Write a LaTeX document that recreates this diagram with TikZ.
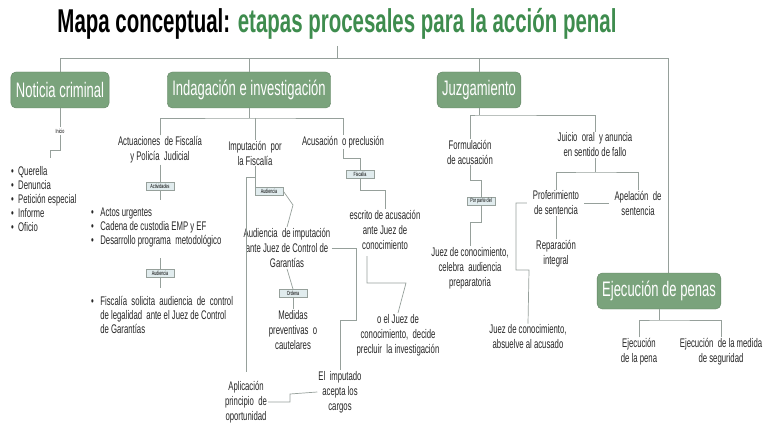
\documentclass[tikz,border=0pt]{standalone}
\usetikzlibrary{calc}
\usepackage{fontspec}
\setmainfont{Liberation Sans}
\newfontfamily\narrow[FakeStretch=0.62]{Liberation Sans}
\newfontfamily\titlef[FakeStretch=0.62]{Liberation Sans Bold}
\definecolor{gbox}{RGB}{122,163,124}
\definecolor{gtitle}{RGB}{62,140,78}
\definecolor{ln}{RGB}{150,160,155}
\definecolor{tg}{RGB}{225,236,238}
\tikzset{
 big/.style={draw=gbox!80!black, fill=gbox, rounded corners=5pt, text=white, font=\narrow\fontsize{21}{23}\selectfont, minimum height=36pt, inner xsep=5pt},
 txt/.style={font=\narrow\fontsize{12.5}{15}\selectfont, align=center, text=black!85, inner sep=1pt},
 tag/.style={draw=ln, fill=tg, font=\narrow\fontsize{6}{7}\selectfont, inner sep=1.5pt, minimum width=28pt},
 ll/.style={draw=ln, line width=0.7pt}
}
\begin{document}
\begin{tikzpicture}[x=1pt,y=-1pt]
\useasboundingbox (0,0) rectangle (768,433);
\node (title) at (337,24) {\titlef\fontsize{33}{36}\selectfont Mapa conceptual: \textcolor{gtitle}{etapas procesales para la acción penal}};
% top tree
\coordinate (t0) at (337,46);
\draw[ll] (t0) -- (337,58);
\draw[ll] (60,72) -- (60,58) -- (668,58) -- (668,273);
\node[big] (nc) at (60,90) {Noticia criminal};
\node[big] (ind) at (249,90) {Indagación e investigación};
\node[big] (juz) at (479,90) {Juzgamiento};
\node[big] (eje) at (659,291) {Ejecución de penas};
\draw[ll] (ind.north) -- (249,58);
\draw[ll] (juz.north) -- (479,58);
% Noticia
\node[tag,draw=none,fill=none] (ini) at (60,131) {Inicio};
\draw[ll] (nc.south) -- (ini.north);
\draw[ll] (ini.south) -- (60,150) -- (50,150) -- (50,158);
\node[txt, align=left, anchor=north west] (lst) at (10,165) {\textbullet\ \ Querella\\[-1pt]\textbullet\ \ Denuncia\\[-1pt]\textbullet\ \ Petición especial\\[-1pt]\textbullet\ \ Informe\\[-1pt]\textbullet\ \ Oficio};
% Indagacion
\node[txt] (act) at (160,150) {Actuaciones\ \ de Fiscalía\\y Policía\ \ Judicial};
\node[txt] (imp) at (255,153) {Imputación\ \ por\\la Fiscalía};
\node[txt] (acu) at (343,142) {Acusación\ \ o preclusión};
\draw[ll] (ind.south) -- (249,118);
\draw[ll] (act.north) |- (249,118) -| (acu.north);
\draw[ll] (255,118) -- (imp.north);
\node[tag] (acti) at (160,186) {Actividades};
\draw[ll] (act.south) -- (acti.north);
\node[txt, align=left, anchor=north west] (l2) at (90,207) {\textbullet\ \ \ Actos urgentes\\[-1pt]\textbullet\ \ \ Cadena de custodia EMP y EF\\[-1pt]\textbullet\ \ \ Desarrollo programa\ \ metodológico};
\draw[ll] (acti.south) -- (160,200);
\node[tag] (aud1) at (160,273) {Audiencia};
\draw[ll] (160,258) -- (aud1.north);
\draw[ll] (aud1.south) -- (160,288);
\node[txt, align=left, anchor=north west] (l3) at (90,295) {\textbullet\ \ \ Fiscalía\ \ solicita\ \ audiencia\ \ de\ \ control\\[-1pt]\phantom{\textbullet\ \ \ }de legalidad\ \ ante el Juez de Control\\[-1pt]\phantom{\textbullet\ \ \ }de Garantías};
% Imputacion
\node[tag] (aud2) at (269,191) {Audiencia};
\node[txt] (aimp) at (287,248) {Audiencia\ \ de imputación\\ante Juez de Control de\\Garantías};
\node[tag] (ord) at (293,293) {Ordena};
\node[txt] (med) at (293,330) {Medidas\\preventivas\ \ o\\cautelares};
\node[txt] (apl) at (246,402) {Aplicación\\principio\ \ de\\oportunidad};
\node[txt] (acep) at (340,392) {El\ \ imputado\\acepta los\\cargos};
\draw[ll] (imp.south) -- (255,177) -- (246,177) -- (246,372);
\draw[ll] (255,177) |- (aud2.west);
\draw[ll] (aud2.east) -- (293,205) -- (aimp.north);
\draw[ll] (aimp.south) -- (ord.north);
\draw[ll] (ord.south) -- (med.north);
\draw[ll] (aimp.east) -- (356,248) -- (356,320) -- (340,320) -- (acep.north);
\draw[ll] (apl.east) -- (290,402) -- (290,394) -- (acep.west);
% Acusacion
\node[tag] (fis) at (360,174) {Fiscalía};
\node[txt] (esc) at (385,230) {escrito de acusación\\ante Juez de\\conocimiento};
\node[txt] (pre) at (398,335) {o el Juez de\\conocimiento,\ \ decide\\precluir\ \ la investigación};
\draw[ll] (acu.south) -- (343,158) -| (fis.north);
\draw[ll] (fis.south) -- (360,190) -| (esc.north);
\draw[ll] (367,256) -- (367,283) -- (406,283) -- (pre.north);
% Juzgamiento
\node[txt] (for) at (470,152) {Formulación\\de acusación};
\node[txt] (jui) at (595,145) {Juicio\ \ oral\ \ y anuncia\\en sentido de fallo};
\draw[ll] (juz.south) -- (479,115);
\draw[ll] (for.north) |- (479,115) -| (jui.north);
\node[tag] (ppd) at (481,201) {Por parte del};
\draw[ll] (for.south) -- (470,180) -| (ppd.north);
\node[txt] (cel) at (470,268) {Juez de conocimiento,\\celebra\ \ audiencia\\preparatoria};
\draw[ll] (ppd.south) -- (481,222) -- (470,222) -- (cel.north);
\node[txt] (pro) at (556,203) {Proferimiento\\de sentencia};
\node[txt] (ape) at (638,203) {Apelación\ \ de\\sentencia};
\draw[ll] (jui.south) -- (595,172);
\draw[ll] (pro.north) |- (595,172) -| (ape.north);
\draw[ll] ($(pro.east)+(4,0)$) -- ($(ape.west)+(-4,0)$);
\node[txt] (rep) at (556,254) {Reparación\\integral};
\draw[ll] (pro.south) -- (rep.north);
\node[txt] (abs) at (528,337) {Juez de conocimiento,\\absuelve al acusado};
\draw[ll] ($(pro.west)+(-5,0)$) -- (516,203) -- (516,270) -- (529,270) -- (abs.north);
% Ejecucion
\node[txt] (ep) at (639,352) {Ejecución\\de la pena};
\node[txt] (em) at (721,352) {Ejecución\ \ de la medida\\de seguridad};
\draw[ll] (eje.south) -- (659,320);
\draw[ll] (ep.north) |- (659,320) -| (em.north);
\end{tikzpicture}
\end{document}
